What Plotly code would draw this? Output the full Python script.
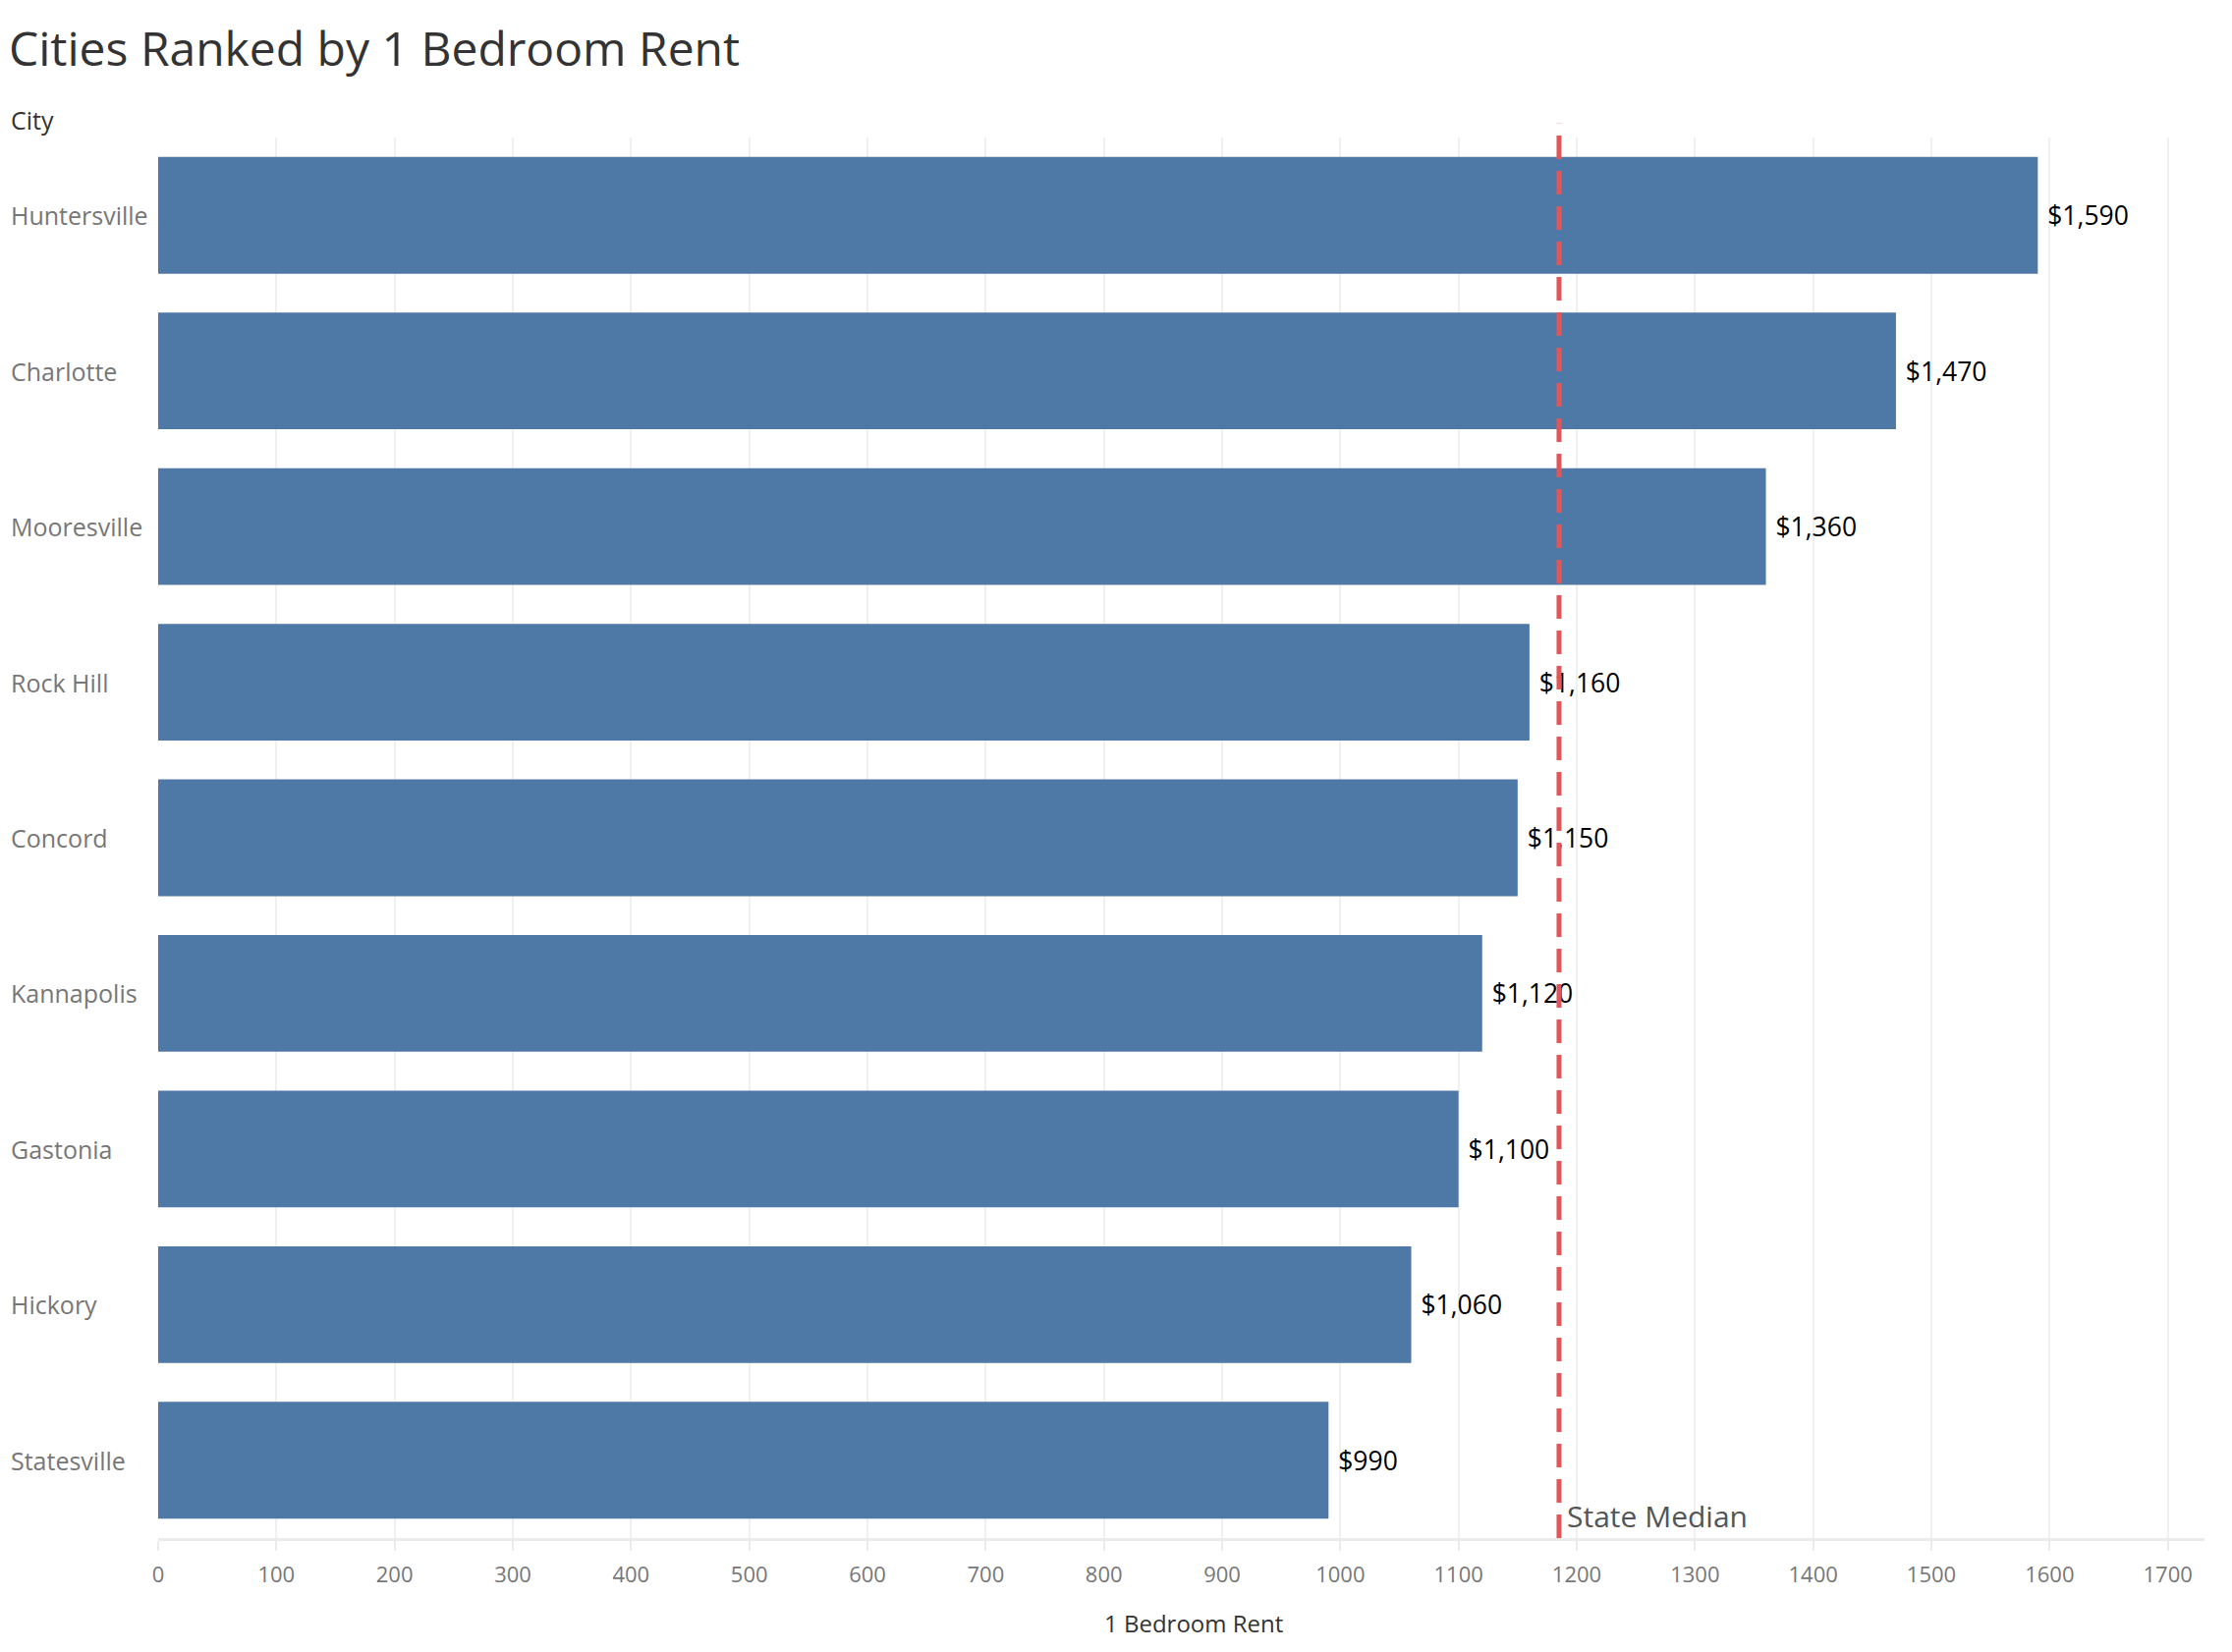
import plotly.graph_objects as go

cities = ["Huntersville", "Charlotte", "Mooresville", "Rock Hill", "Concord",
          "Kannapolis", "Gastonia", "Hickory", "Statesville"]
rent = [1590, 1470, 1360, 1160, 1150, 1120, 1100, 1060, 990]
state_median = 1185
x_ticks = list(range(0, 1800, 100))

FONT = "Open Sans"
W, H = 2272, 1682
ML, MR, MT, MB = 161, 28, 140, 116
PW = W - ML - MR
PH = H - MT - MB

fig = go.Figure()
fig.add_trace(go.Bar(
    x=rent, y=cities, orientation="h",
    marker=dict(color="#4E79A7", line=dict(width=0)),
    width=0.75,
    text=[f" ${v:,}" for v in rent],
    textposition="outside",
    textfont=dict(family=FONT, size=26.5, color="#000000"),
    cliponaxis=False,
    hoverinfo="skip",
))

# State median line
fig.add_shape(type="line", xref="x", yref="paper",
              x0=state_median, x1=state_median, y0=0, y1=1.01,
              line=dict(color="#E15759", width=5, dash="24px,12px"))
fig.add_annotation(xref="x", yref="paper", x=state_median, y=0.0,
                   text="State Median", showarrow=False,
                   xanchor="left", yanchor="bottom", xshift=6,
                   font=dict(family=FONT, size=30, color="#555555"))

# Left-aligned category labels
for c in cities:
    fig.add_annotation(xref="paper", yref="y", x=(9 - ML) / PW, y=c,
                       text=c, showarrow=False, xanchor="left", yanchor="middle",
                       font=dict(family=FONT, size=25, color="#777777"))

fig.add_annotation(xref="paper", yref="paper", x=(9 - ML) / PW, y=1 + (MT - 122) / PH,
                   text="City", showarrow=False, xanchor="left", yanchor="middle",
                   font=dict(family=FONT, size=25, color="#333333"))

# x-axis title
fig.add_annotation(xref="paper", yref="paper", x=(838.5 * W / 1568 - ML) / PW,
                   y=-(1652 - (H - MB)) / PH,
                   text="1 Bedroom Rent", showarrow=False, xanchor="center", yanchor="middle",
                   font=dict(family=FONT, size=24, color="#333333"))

fig.update_layout(
    width=W, height=H,
    margin=dict(l=ML, r=MR, t=MT, b=MB),
    paper_bgcolor="white", plot_bgcolor="white",
    showlegend=False,
    title=dict(text="Cities Ranked by 1 Bedroom Rent", x=9 / W, xanchor="left",
               xref="container", y=1 - 50 / H, yanchor="middle", yref="container",
               font=dict(family=FONT, size=48, color="#333333")),
    xaxis=dict(range=[0, 1731], tickvals=x_ticks, ticktext=[str(t) for t in x_ticks],
               showgrid=True, gridcolor="#F0F0F0", gridwidth=2,
               zeroline=False,
               showline=True, linecolor="#EBEBEB", linewidth=3,
               ticks="outside", ticklen=10, tickcolor="#EBEBEB", tickwidth=2,
               ticklabelstandoff=6,
               tickfont=dict(family=FONT, size=22, color="#777777")),
    yaxis=dict(categoryorder="array", categoryarray=cities, autorange="reversed",
               range=[8.5, -0.5], showticklabels=False, showgrid=False,
               zeroline=False, showline=False, ticks=""),
)

fig.write_html("out.html")
